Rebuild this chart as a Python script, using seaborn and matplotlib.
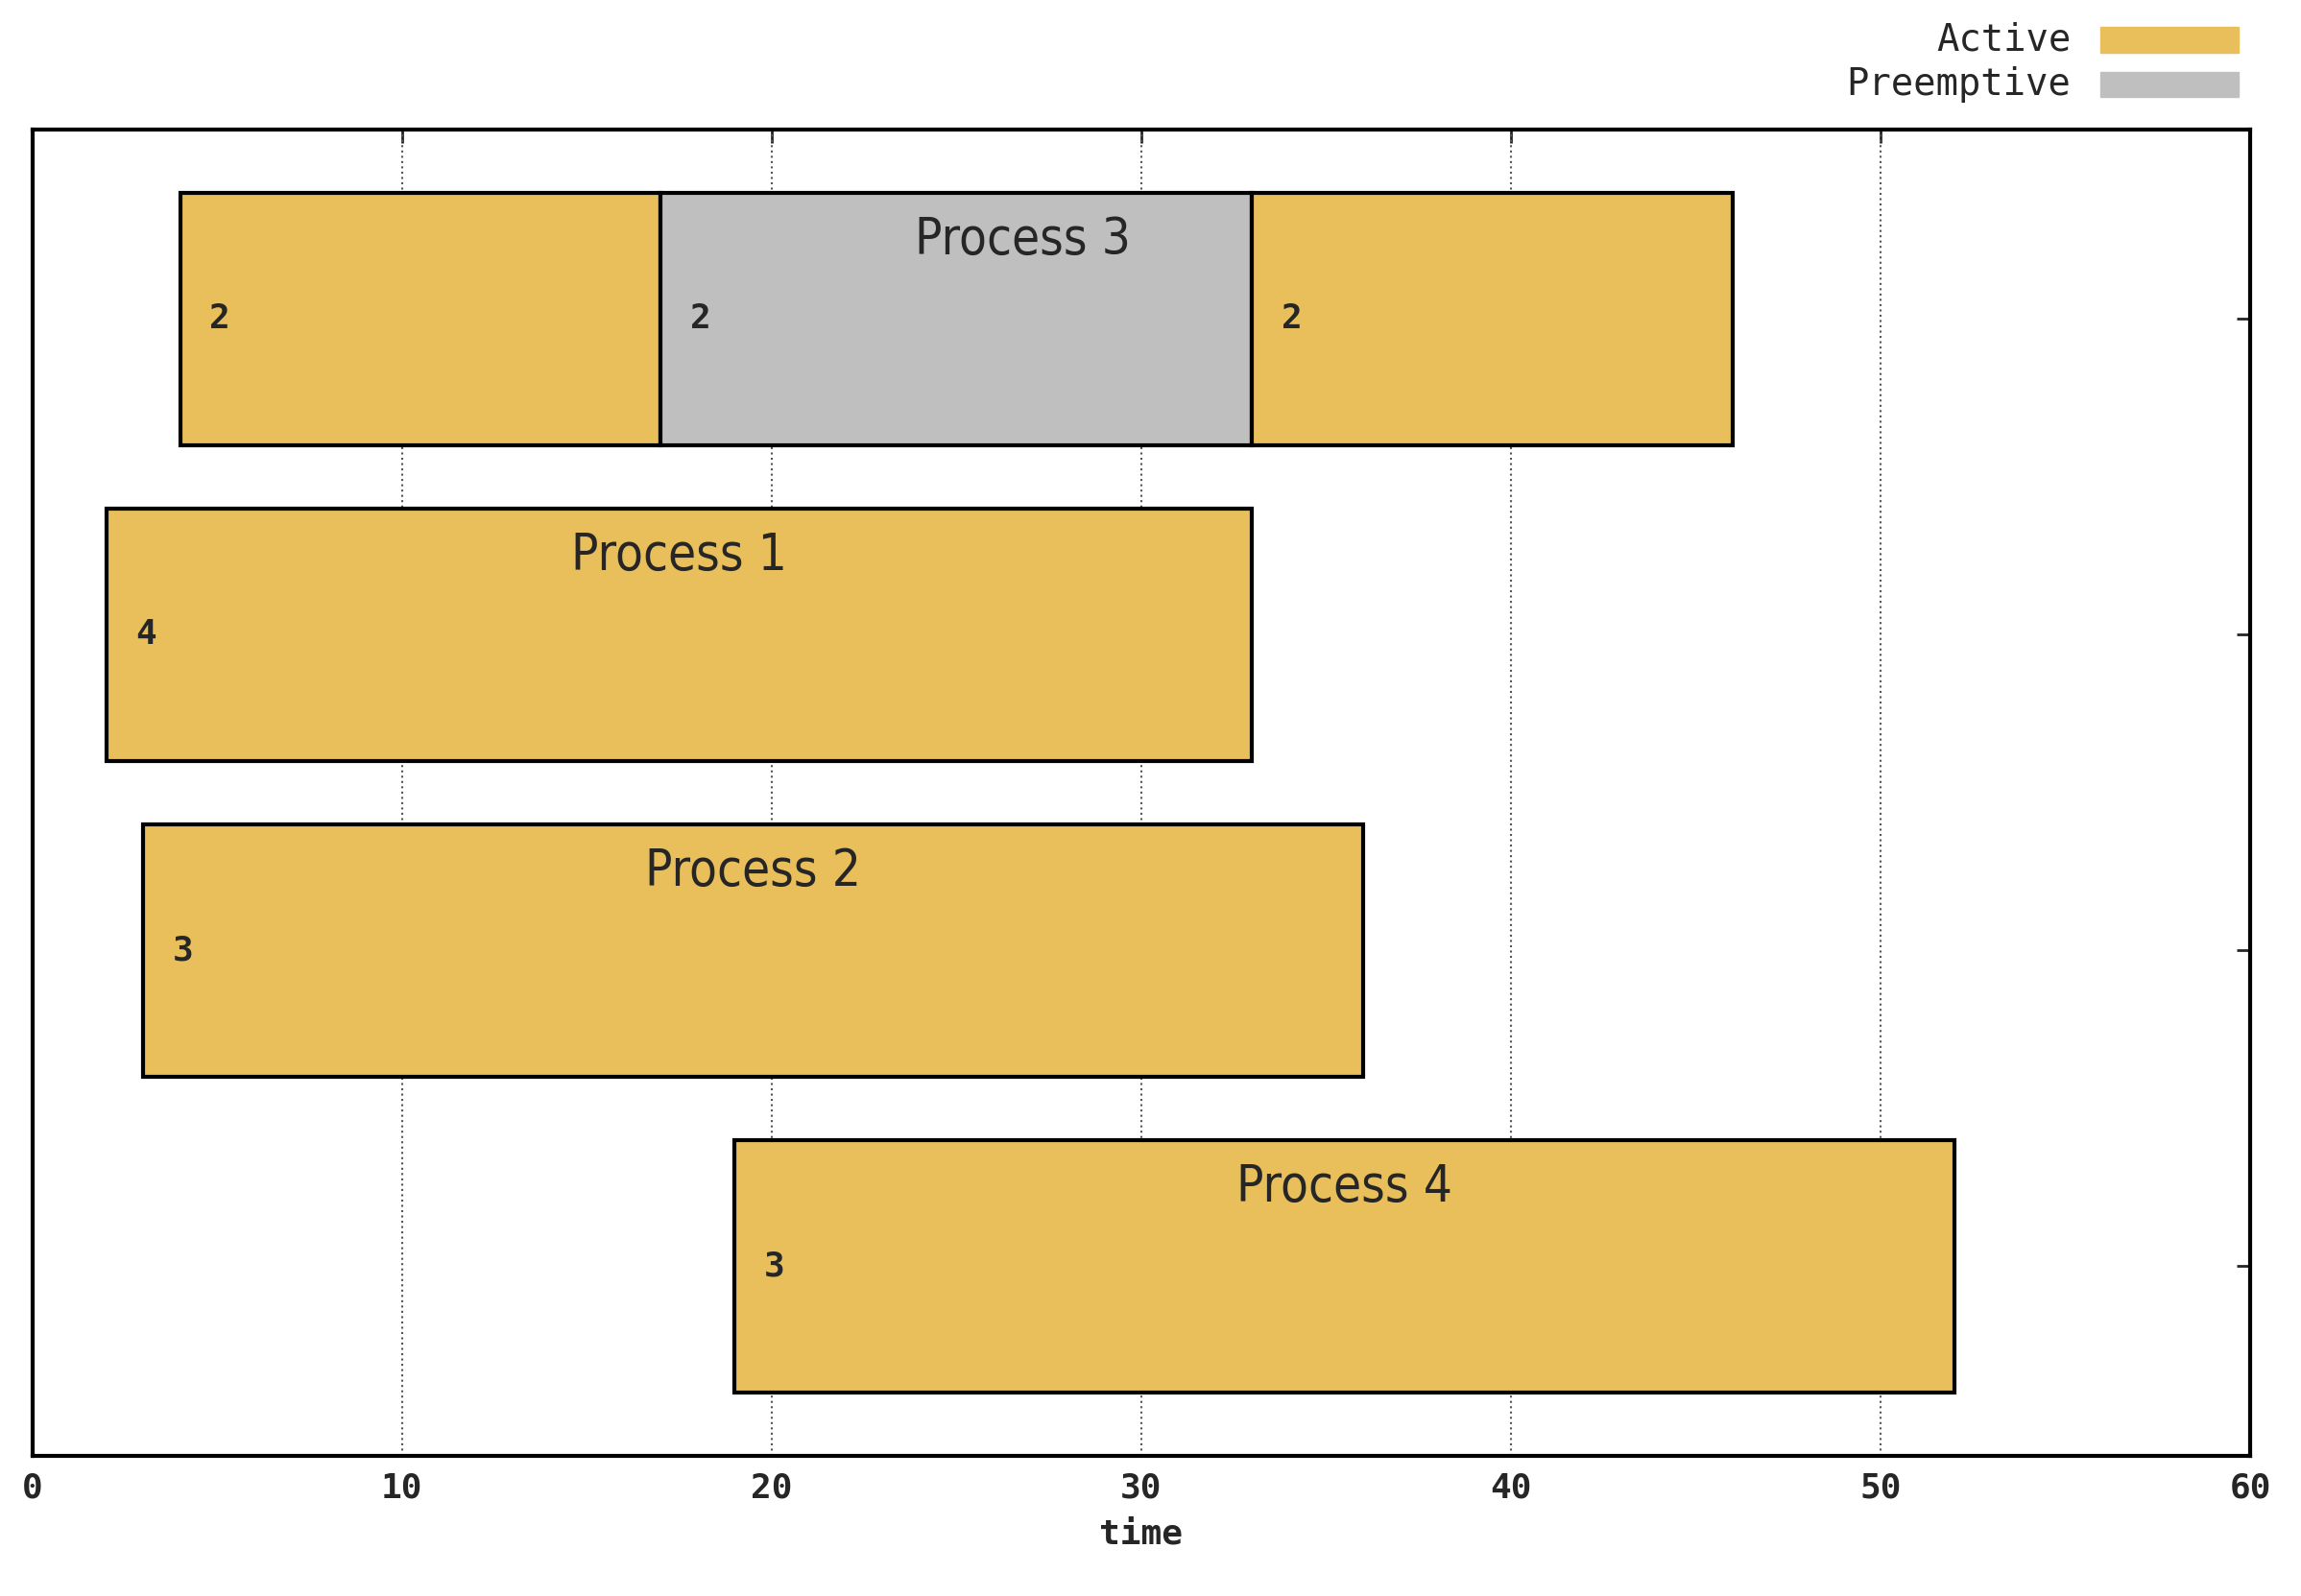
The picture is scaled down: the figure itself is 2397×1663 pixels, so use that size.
import matplotlib
matplotlib.use("Agg")
import matplotlib.pyplot as plt
import seaborn as sns
import pandas as pd

rows = ["Process 3", "Process 1", "Process 2", "Process 4"]
row_pos = [4, 3, 2, 1]
seg_row = ["Process 3", "Process 3", "Process 3", "Process 1", "Process 2", "Process 4"]
seg_start = [4, 17, 33, 2, 3, 19]
seg_end = [17, 33, 46, 33, 36, 52]
seg_state = ["Active", "Preemptive", "Active", "Active", "Active", "Active"]
seg_label = ["2", "2", "2", "4", "3", "3"]
colors = {"Active": "#E8BF5A", "Preemptive": "#BFBFBF"}

sns.set_theme(style="white")
plt.rcParams['font.family'] = ['DejaVu Sans Mono', 'DejaVu Sans']

df = pd.DataFrame({"row": seg_row, "start": seg_start, "end": seg_end,
                   "state": seg_state, "label": seg_label})
pos = dict(zip(rows, row_pos))

fig = plt.figure(figsize=(23.97, 16.63), dpi=100)
ax = fig.add_axes([0.014, 0.088, 0.964, 0.831])
for _, r in df.iterrows():
    y = pos[r.row]
    ax.barh(y, r.end - r.start, left=r.start, height=0.8, color=colors[r.state],
            edgecolor="black", linewidth=3, zorder=3)
    ax.text(r.start + 0.8, y, r.label, fontsize=26, fontweight="bold",
            va="center", ha="left", zorder=4)
for name in rows:
    sub = df[df.row == name]
    cx = (sub.start.min() + sub.end.max()) / 2
    if name == "Process 3":
        cx += 1.8
    ax.text(cx, pos[name] + 0.25, name, fontsize=38, family="DejaVu Sans",
            fontstretch="condensed", va="center", ha="center", zorder=4)

ax.set_xlim(0, 60)
ax.set_ylim(0.4, 4.6)
ax.set_xticks(range(0, 61, 10))
ax.set_yticks(row_pos)
ax.set_yticklabels([])
ax.tick_params(axis="x", labelsize=26, length=10, width=2, direction="in", top=True, pad=12)
ax.tick_params(axis="y", length=10, width=2, direction="in", right=True)
for t in ax.get_xticklabels():
    t.set_fontweight("bold")
for x in range(10, 60, 10):
    ax.axvline(x, color="#555555", linestyle=":", linewidth=1.5, zorder=1)
for s in ax.spines.values():
    s.set_linewidth(3)
    s.set_color("black")
ax.set_xlabel("time", fontsize=26, fontweight="bold", labelpad=10)

for i, (lab, c) in enumerate([("Active", colors["Active"]), ("Preemptive", colors["Preemptive"])]):
    yy = 0.975 - i * 0.028
    fig.text(0.9, yy, lab, fontsize=28, ha="right", va="center")
    fig.patches.append(plt.Rectangle((0.913, yy - 0.008), 0.06, 0.016,
                                     transform=fig.transFigure, color=c, figure=fig))

fig.savefig("out.png", dpi=100)
